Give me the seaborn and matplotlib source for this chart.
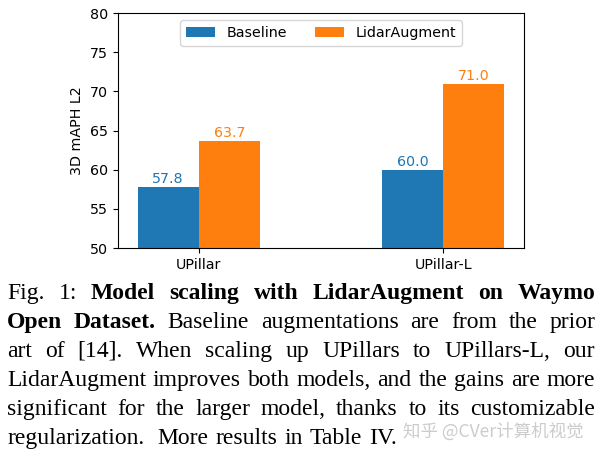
import matplotlib
matplotlib.use("Agg")
import matplotlib.pyplot as plt
import seaborn as sns
import pandas as pd

# --- DATA ---
models = ["UPillar", "UPillar-L"]
methods = ["Baseline", "LidarAugment"]
baseline = [57.8, 60.0]
lidaraugment = [63.7, 71.0]
y_ticks = [50, 55, 60, 65, 70, 75, 80]

# ** marks bold text
caption_lines = [
    "Fig. 1: **Model scaling with LidarAugment on Waymo",
    "Open Dataset.** Baseline augmentations are from the prior",
    "art of [14]. When scaling up UPillars to UPillars-L, our",
    "LidarAugment improves both models, and the gains are more",
    "significant for the larger model, thanks to its customizable",
    "regularization. More results in Table IV.",
]
watermark = "知乎 @CVer计算机视觉"

colors = ["#1f77b4", "#ff7f0e"]

df = pd.DataFrame({
    "Model": models * 2,
    "Method": [methods[0]] * len(models) + [methods[1]] * len(models),
    "Score": baseline + lidaraugment,
})

W, H = 600, 457
plt.rcParams["font.size"] = 10.3
fig = plt.figure(figsize=(W / 100, H / 100), dpi=100)
ax = fig.add_axes([118 / W, 1 - 248 / H, 406 / W, 235 / H])

sns.barplot(data=df, x="Model", y="Score", hue="Method", palette=colors,
            width=0.5, saturation=1, errorbar=None, linewidth=0, ax=ax)

for cont, c in zip(ax.containers, colors):
    ax.bar_label(cont, fmt="%.1f", color=c, padding=0.5)

ax.set_xlim(-0.33, 1.33)
ax.set_ylim(50, 80)
ax.set_yticks(y_ticks)
ax.set_xlabel("")
ax.set_ylabel("3D mAPH L2")
handles, labels = ax.get_legend_handles_labels()
ax.legend(handles, labels, loc="upper center", ncol=2)

# --- CAPTION (justified, like the paper) ---
fs = 17
em = fs * 100 / 72
x_left, x_right = 7, 595
base_y = 299
line_step = 29

fig.canvas.draw()
renderer = fig.canvas.get_renderer()
bold = False
for i, line in enumerate(caption_lines):
    words = []
    for w in line.split(" "):
        b = bold
        if w.startswith("**"):
            w = w[2:]
            b = True
            bold = True
        if w.endswith("**"):
            w = w[:-2]
            bold = False
        words.append((w, b))
    texts = []
    for w, b in words:
        t = fig.text(0, 1 - (base_y + i * line_step) / H, w, fontsize=fs,
                     family="Liberation Serif",
                     fontweight="bold" if b else "normal", va="baseline")
        texts.append(t)
    widths = [t.get_window_extent(renderer).width for t in texts]
    last = i == len(caption_lines) - 1
    if not last:
        gap = (x_right - x_left - sum(widths)) / (len(texts) - 1)
    x = x_left
    for (w, b), t, wd in zip(words, texts, widths):
        t.set_x(x / W)
        if last:
            gap = 0.55 * em if w.endswith(".") else 0.3 * em
        x += wd + gap

fig.text(403 / W, 1 - 432 / H, watermark, fontsize=12.6, color="#cccccc",
         family=["Noto Sans CJK SC", "DejaVu Sans"], va="center")

fig.savefig("out.png", dpi=100)
plt.close(fig)
